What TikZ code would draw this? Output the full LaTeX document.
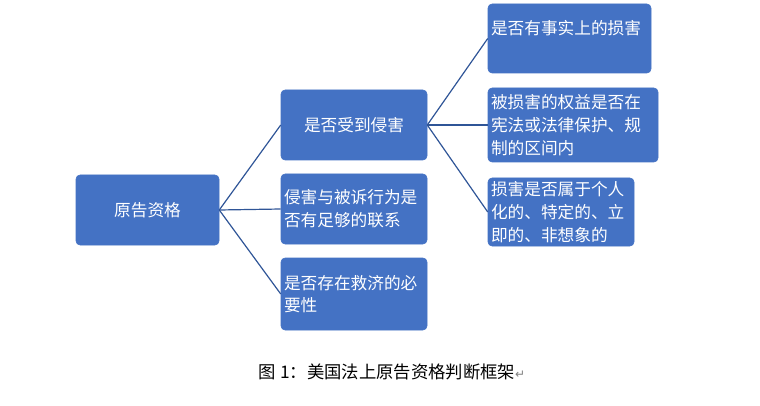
\documentclass[tikz,border=0pt]{standalone}
\usepackage{fontspec}
\setmainfont{Noto Sans CJK SC}
\newfontfamily\symfont{DejaVu Sans}
\usetikzlibrary{positioning}
\definecolor{boxblue}{RGB}{68,114,196}
\definecolor{lineblue}{RGB}{47,85,151}
\tikzset{
  box/.style={draw=boxblue, fill=boxblue, rounded corners=3pt, text=white,
    font=\fontsize{12.5}{17}\selectfont, inner sep=2pt},
  link/.style={draw=lineblue, line width=0.9pt}
}
\begin{document}
\begin{tikzpicture}[x=0.75pt,y=-0.75pt]
\useasboundingbox (0,0) rectangle (760,406);
% root and first level
\node[box, minimum width=143*0.75pt, minimum height=70*0.75pt] (root) at (147.5,210) {原告资格};
\node[box, minimum width=146*0.75pt, minimum height=70*0.75pt] (harm) at (354,125) {是否受到侵害};
\node[box, minimum width=146*0.75pt, minimum height=70*0.75pt, text width=140*0.75pt, align=left] (link) at (354,209) {侵害与被诉行为是\\否有足够的联系};
\node[box, minimum width=146*0.75pt, minimum height=72*0.75pt, text width=140*0.75pt, align=left] (remedy) at (354,294) {是否存在救济的必\\要性};
% second level
\node[box, minimum width=163*0.75pt, minimum height=69*0.75pt, text width=157*0.75pt, align=left] (fact) at (569.5,38.5) {是否有事实上的损害\\\mbox{}};
\node[box, minimum width=170*0.75pt, minimum height=74*0.75pt, text width=164*0.75pt, align=left] (right) at (573,125) {被损害的权益是否在\\宪法或法律保护、规\\制的区间内};
\node[box, minimum width=146*0.75pt, minimum height=68*0.75pt, text width=140*0.75pt, align=left] (type) at (561,212) {损害是否属于个人\\化的、特定的、立\\即的、非想象的};
% connectors
\foreach \t in {harm,link,remedy}
  \draw[link] (root.east) -- (\t.west);
\foreach \t in {fact,right,type}
  \draw[link] (harm.east) -- (\t.west);
% caption
\node[font=\fontsize{13}{15}\selectfont] (cap) at (392,372) {图 1：美国法上原告资格判断框架{\symfont\color{gray}\small ↵}};
\end{tikzpicture}
\end{document}
